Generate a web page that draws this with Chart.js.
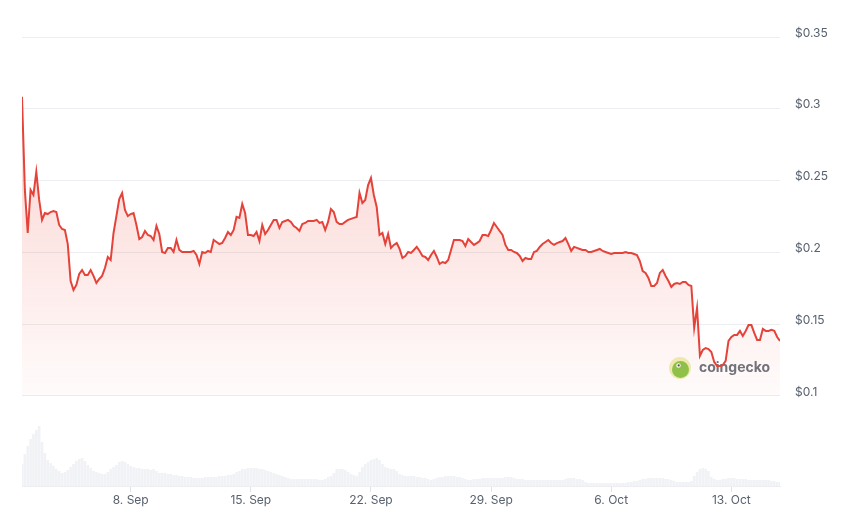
<!DOCTYPE html>
<html><head><meta charset="utf-8">
<script src="https://cdn.jsdelivr.net/npm/chart.js@4.4.1/dist/chart.umd.min.js"></script>
<style>html,body{margin:0;padding:0;background:#fff;}#wrap{width:855px;height:520px;position:relative;}</style>
</head><body><div id="wrap"><canvas id="c" width="855" height="520"></canvas></div>
<script>
// time axis: days since 1 Sep 00:00, one sample every 4 hours
const startDay = 0.6667;
const stepDays = 1 / 6;
const priceUsd = [
0.3084,0.2435,0.2135,0.2435,0.2400,0.2560,0.2365,0.2226,0.2274,0.2267,
0.2281,0.2288,0.2281,0.2191,0.2163,0.2156,0.2058,0.1801,0.1738,0.1773,
0.1850,0.1877,0.1843,0.1843,0.1877,0.1836,0.1787,0.1815,0.1836,0.1891,
0.1968,0.1947,0.2135,0.2253,0.2372,0.2414,0.2295,0.2253,0.2267,0.2274,
0.2191,0.2093,0.2107,0.2149,0.2121,0.2114,0.2086,0.2184,0.2128,0.2003,
0.1996,0.2031,0.2031,0.2003,0.2086,0.2017,0.2003,0.2003,0.2003,0.2003,
0.2010,0.1982,0.1919,0.2003,0.1996,0.2010,0.2003,0.2086,0.2072,0.2058,
0.2065,0.2100,0.2142,0.2121,0.2156,0.2247,0.2240,0.2337,0.2274,0.2121,
0.2121,0.2114,0.2142,0.2079,0.2191,0.2128,0.2156,0.2191,0.2226,0.2226,
0.2170,0.2212,0.2219,0.2226,0.2212,0.2184,0.2170,0.2149,0.2198,0.2205,
0.2219,0.2219,0.2219,0.2226,0.2205,0.2212,0.2156,0.2212,0.2302,0.2281,
0.2212,0.2198,0.2198,0.2212,0.2226,0.2233,0.2240,0.2247,0.2414,0.2344,
0.2365,0.2469,0.2518,0.2400,0.2316,0.2121,0.2135,0.2058,0.2128,0.2031,
0.2052,0.2065,0.2024,0.1961,0.1975,0.2003,0.1996,0.2017,0.2038,0.2010,
0.1975,0.1968,0.1947,0.1982,0.2010,0.1968,0.1919,0.1933,0.1926,0.1947,
0.2017,0.2086,0.2086,0.2086,0.2079,0.2045,0.2093,0.2072,0.2052,0.2065,
0.2079,0.2121,0.2121,0.2114,0.2156,0.2205,0.2177,0.2149,0.2121,0.2052,
0.2017,0.2017,0.2003,0.1996,0.1975,0.1940,0.1961,0.1954,0.1954,0.2003,
0.2010,0.2038,0.2058,0.2072,0.2086,0.2065,0.2052,0.2065,0.2072,0.2079,
0.2100,0.2058,0.2010,0.2038,0.2031,0.2024,0.2017,0.2017,0.2003,0.2003,
0.2010,0.2017,0.2024,0.2010,0.2003,0.1996,0.1989,0.1996,0.1996,0.1996,
0.1996,0.2003,0.1996,0.1996,0.1989,0.1982,0.1940,0.1870,0.1857,0.1822,
0.1766,0.1766,0.1787,0.1857,0.1877,0.1836,0.1801,0.1759,0.1780,0.1787,
0.1780,0.1794,0.1794,0.1773,0.1766,0.1474,0.1613,0.1279,0.1320,0.1334,
0.1327,0.1306,0.1237,0.1209,0.1209,0.1216,0.1244,0.1383,0.1411,0.1425,
0.1425,0.1453,0.1418,0.1453,0.1494,0.1494,0.1439,0.1390,0.1390,0.1467,
0.1453,0.1453,0.1460,0.1453,0.1411,0.1383
];
// volume, millions USD
const volumeM = [
22,32,40,47,52,56,60,44,33,26,
23,20,17,15,13,14,16,19,22,25,
27,28,25,21,18,15,14,13,12,12,
14,17,19,21,24,25,24,22,20,19,
18,18,17,17,17,16,17,15,13,13,
13,12,12,11,11,10,10,9,9,9,
8,8,8,8,9,9,9,9,9,10,
10,10,11,11,12,14,15,17,17,18,
18,18,18,17,17,16,15,14,13,12,
11,10,9,8,7,7,7,7,7,7,
7,7,7,7,6,6,7,9,10,13,
17,17,17,16,14,12,11,10,14,19,
22,24,26,27,28,26,22,19,18,17,
17,15,12,11,10,10,10,10,9,9,
8,8,7,6,7,8,9,9,10,10,
10,10,9,9,8,7,6,6,7,7,
7,8,8,8,8,8,8,8,8,9,
9,9,8,7,7,7,6,6,6,6,
6,6,6,6,6,6,6,6,6,6,
7,8,8,8,7,7,6,4,3,3,
3,3,3,3,3,3,3,3,3,3,
3,3,4,4,5,5,6,7,7,8,
8,8,8,8,8,7,7,6,5,4,
4,4,4,4,5,10,14,17,18,17,
15,9,7,6,6,7,7,8,8,8,
7,7,7,7,6,6,6,6,6,6,
6,6,5,5,4,4
];
const xTickDays = [7, 14, 21, 28, 35, 42];
const xTickLabels = ['8. Sep', '15. Sep', '22. Sep', '29. Sep', '6. Oct', '13. Oct'];
const yTickValues = [0.1, 0.15, 0.2, 0.25, 0.3, 0.35];
const yTickLabels = ['$0.1', '$0.15', '$0.2', '$0.25', '$0.3', '$0.35'];

const xs = priceUsd.map((_, i) => startDay + i * stepDays);
const priceData = priceUsd.map((p, i) => ({x: xs[i], y: p}));
const volData = volumeM.map((v, i) => ({x: xs[i], y: v}));

const textColor = '#58616e';
const fontFamily = 'Inter, "Noto Sans", sans-serif';

const watermark = {
  id: 'watermark',
  beforeDatasetsDraw(chart) {
    const c = chart.ctx, a = chart.chartArea;
    const cx = a.right - 100;
    const cy = chart.scales.y.getPixelForValue(0.1) - 28;
    c.save();
    c.beginPath(); c.arc(cx, cy, 11, 0, Math.PI * 2); c.fillStyle = '#eef0b4'; c.fill();
    c.beginPath(); c.arc(cx + 0.5, cy + 1.5, 8.5, 0, Math.PI * 2); c.fillStyle = '#8cc54a'; c.fill();
    c.beginPath(); c.arc(cx - 1.5, cy - 2.5, 2.2, 0, Math.PI * 2); c.fillStyle = '#ffffff'; c.fill();
    c.beginPath(); c.arc(cx - 1.3, cy - 2.5, 1.1, 0, Math.PI * 2); c.fillStyle = '#4a4f57'; c.fill();
    c.font = 'bold 14px ' + fontFamily;
    c.fillStyle = '#6e747e';
    c.textBaseline = 'middle';
    c.textAlign = 'left';
    c.fillText('coingecko', cx + 19, cy);
    c.restore();
  }
};

new Chart(document.getElementById('c'), {
  data: {
    datasets: [
      {
        type: 'line', data: priceData, yAxisID: 'y', order: 0,
        borderColor: '#e5433a', borderWidth: 2, pointRadius: 0, tension: 0,
        fill: {value: 0.1},
        backgroundColor: (ctx) => {
          const chart = ctx.chart; const a = chart.chartArea;
          if (!a) return 'rgba(0,0,0,0)';
          const yb = chart.scales.y.getPixelForValue(0.1);
          const g = chart.ctx.createLinearGradient(0, a.top, 0, yb);
          g.addColorStop(0, 'rgba(234,67,53,0.28)');
          g.addColorStop(1, 'rgba(234,67,53,0.02)');
          return g;
        }
      },
      {
        type: 'bar', data: volData, yAxisID: 'yv', order: 1,
        backgroundColor: 'rgba(226,229,235,0.5)', borderWidth: 0,
        barPercentage: 0.9, categoryPercentage: 1
      }
    ]
  },
  options: {
    responsive: false, animation: false, devicePixelRatio: 1,
    layout: {padding: {left: 22, right: 0, top: 37, bottom: 0}},
    plugins: {legend: {display: false}, tooltip: {enabled: false}},
    scales: {
      x: {
        type: 'linear', offset: false,
        min: startDay, max: startDay + (priceUsd.length - 1) * stepDays,
        afterBuildTicks: (s) => { s.ticks = xTickDays.map(v => ({value: v})); },
        afterFit: (s) => { s.height = 34; },
        ticks: {
          autoSkip: false, maxRotation: 0, padding: 1, color: textColor,
          font: {family: fontFamily, size: 12},
          callback: (v) => { const k = xTickDays.indexOf(v); return k >= 0 ? xTickLabels[k] : ''; }
        },
        grid: {offset: false, drawOnChartArea: false, drawTicks: true, tickLength: 6, color: '#dfe2e6'},
        border: {display: true, color: '#eceef1'}
      },
      y: {
        type: 'linear', position: 'right', min: 0.0373, max: 0.35,
        afterBuildTicks: (s) => { s.ticks = yTickValues.map(v => ({value: v})); },
        afterFit: (s) => { s.width = 75; },
        ticks: {
          padding: 15, labelOffset: -4, color: textColor,
          font: {family: fontFamily, size: 12},
          callback: (v) => { const k = yTickValues.findIndex(t => Math.abs(t - v) < 1e-9); return k >= 0 ? yTickLabels[k] : ''; }
        },
        grid: {drawTicks: false, color: '#eceef1'},
        border: {display: false}
      },
      yv: {type: 'linear', display: false, min: 0, max: 449}
    }
  },
  plugins: [watermark]
});
</script></body></html>
